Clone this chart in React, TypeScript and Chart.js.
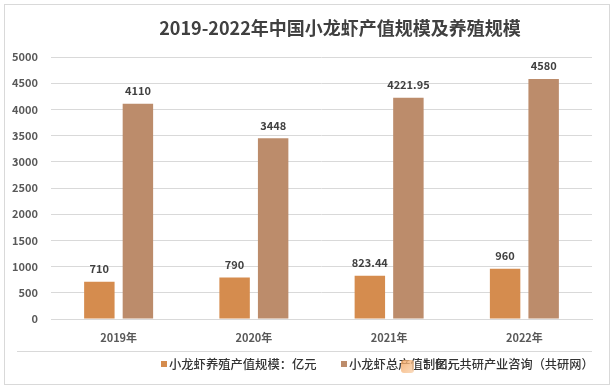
import React, { useEffect, useRef } from "react";
import { Chart, registerables } from "chart.js";

Chart.register(...registerables);

const categories = ["2019年", "2020年", "2021年", "2022年"];
const farmingValues = [710, 790, 823.44, 960];
const totalValues = [4110, 3448, 4221.95, 4580];
const seriesNames = ["小龙虾养殖产值规模：亿元", "小龙虾总产值：亿元"];
const seriesColors = ["#D58C4E", "#BC8C6B"];
const titleText = "2019-2022年中国小龙虾产值规模及养殖规模";
const sourceText = "制图：共研产业咨询（共研网）";

const FONT = '"Noto Sans CJK SC", "Microsoft YaHei", sans-serif';

const valueLabelPlugin = {
  id: "valueLabels",
  afterDatasetsDraw(chart: any) {
    const ctx = chart.ctx;
    ctx.save();
    ctx.font = `bold 11px ${FONT}`;
    ctx.fillStyle = "#404040";
    ctx.textAlign = "center";
    ctx.textBaseline = "middle";
    chart.data.datasets.forEach((ds: any, di: number) => {
      const meta = chart.getDatasetMeta(di);
      meta.data.forEach((el: any, i: number) => {
        ctx.fillText(String(ds.data[i]), el.x, el.y - 13);
      });
    });
    ctx.restore();
  },
};

export default function App() {
  const canvasRef = useRef<HTMLCanvasElement | null>(null);

  useEffect(() => {
    if (!canvasRef.current) return;
    const chart = new Chart(canvasRef.current, {
      type: "bar",
      data: {
        labels: categories,
        datasets: [
          {
            label: seriesNames[0],
            data: farmingValues,
            backgroundColor: seriesColors[0],
            categoryPercentage: 0.57,
            barPercentage: 0.79,
          },
          {
            label: seriesNames[1],
            data: totalValues,
            backgroundColor: seriesColors[1],
            categoryPercentage: 0.57,
            barPercentage: 0.79,
          },
        ],
      },
      options: {
        animation: false,
        responsive: false,
        maintainAspectRatio: false,
        layout: { padding: { top: 57, right: 23, bottom: 0, left: 0 } },
        plugins: {
          legend: { display: false },
          title: { display: false },
          tooltip: { enabled: false },
        },
        scales: {
          x: {
            grid: { display: false, drawTicks: false },
            border: { display: true, color: "#D9D9D9" },
            ticks: {
              font: { family: FONT, size: 11, weight: "bold" },
              color: "#595959",
              padding: 12,
            },
            afterFit(scale: any) {
              scale.height = 69;
            },
          },
          y: {
            min: 0,
            max: 5000,
            grid: { color: "#D9D9D9", drawTicks: false },
            border: { display: false },
            ticks: {
              stepSize: 500,
              font: { family: FONT, size: 11, weight: "bold" },
              color: "#595959",
              padding: 13,
              callback: (v: any) => String(v),
            },
            afterFit(scale: any) {
              scale.width = 51;
            },
          },
        },
      },
      plugins: [valueLabelPlugin],
    });
    return () => chart.destroy();
  }, []);

  return (
    <div
      style={{
        position: "fixed",
        left: 0,
        top: 0,
        width: 615,
        height: 388,
        background: "#ffffff",
        fontFamily: FONT,
      }}
    >
      <div
        style={{
          position: "absolute",
          left: 4,
          top: 4,
          width: 604,
          height: 379,
          border: "1px solid #D9D9D9",
        }}
      />
      <canvas
        ref={canvasRef}
        width={615}
        height={388}
        style={{ position: "absolute", left: 0, top: 0 }}
      />
      <div
        style={{
          position: "absolute",
          left: 0,
          top: 14,
          width: 680,
          textAlign: "center",
          fontSize: 18,
          fontWeight: "bold",
          color: "#404040",
          lineHeight: "26px",
          whiteSpace: "nowrap",
        }}
      >
        {titleText}
      </div>
      <div
        style={{
          position: "absolute",
          left: 17,
          top: 351,
          width: 575,
          height: 1,
          background: "#D9D9D9",
        }}
      />
      {[161, 341].map((x, i) => (
        <div
          key={i}
          style={{
            position: "absolute",
            left: x,
            top: 355,
            height: 18,
            display: "flex",
            alignItems: "center",
            whiteSpace: "nowrap",
          }}
        >
          <span
            style={{
              display: "inline-block",
              width: 6,
              height: 6,
              background: seriesColors[i],
              marginRight: 2,
            }}
          />
          <span style={{ fontSize: 12.3, color: "#333333", fontWeight: 500 }}>{seriesNames[i]}</span>
        </div>
      ))}
      <div
        style={{
          position: "absolute",
          left: 401,
          top: 360,
          width: 13,
          height: 13,
          borderRadius: 3,
          background: "linear-gradient(135deg, #F5A35A, #F8D3B0)",
          opacity: 0.8,
        }}
      />
      <div
        style={{
          position: "absolute",
          left: 423,
          top: 355,
          height: 18,
          lineHeight: "18px",
          fontSize: 12.2,
          color: "#333333",
          fontWeight: 500,
          whiteSpace: "nowrap",
        }}
      >
        {sourceText}
      </div>
    </div>
  );
}
